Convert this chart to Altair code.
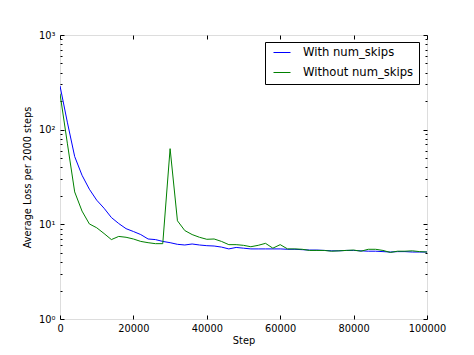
import altair as alt
import pandas as pd

steps = [0, 2000, 4000, 6000, 8000, 10000, 12000, 14000, 16000, 18000,
         20000, 22000, 24000, 26000, 28000, 30000, 32000, 34000, 36000, 38000,
         40000, 42000, 44000, 46000, 48000, 50000, 52000, 54000, 56000, 58000,
         60000, 62000, 64000, 66000, 68000, 70000, 72000, 74000, 76000, 78000,
         80000, 82000, 84000, 86000, 88000, 90000, 92000, 94000, 96000, 98000,
         100000]

with_skips = [290, 120, 52, 33, 23.5, 18, 14.8, 11.8, 10.2, 9.0,
              8.4, 7.8, 7.0, 6.9, 6.6, 6.4, 6.15, 6.05, 6.2, 6.05,
              5.95, 5.9, 5.75, 5.5, 5.7, 5.6, 5.5, 5.5, 5.5, 5.5,
              5.5, 5.45, 5.45, 5.4, 5.35, 5.35, 5.3, 5.25, 5.25, 5.3,
              5.3, 5.25, 5.2, 5.2, 5.15, 5.1, 5.15, 5.15, 5.1, 5.1,
              5.1]

without_skips = [240, 72, 22, 13.8, 10.1, 9.2, 8.0, 6.9, 7.45, 7.3,
                 7.0, 6.6, 6.4, 6.25, 6.25, 63, 10.9, 8.6, 7.8, 7.3,
                 6.95, 7.0, 6.6, 6.1, 6.1, 6.0, 5.8, 6.0, 6.3, 5.6,
                 6.1, 5.5, 5.5, 5.45, 5.3, 5.3, 5.3, 5.2, 5.25, 5.3,
                 5.35, 5.2, 5.45, 5.45, 5.3, 5.05, 5.2, 5.2, 5.25, 5.15,
                 5.1]

series_names = ["With num_skips", "Without num_skips"]
series_colors = ["#0000ff", "#008000"]

x_ticks = [0, 20000, 40000, 60000, 80000, 100000]
y_ticks = [1, 10, 100, 1000]
y_minor = [2, 3, 4, 5, 6, 7, 8, 9, 20, 30, 40, 50, 60, 70, 80, 90,
           200, 300, 400, 500, 600, 700, 800, 900]

df = pd.DataFrame({
    "step": steps * 2,
    "loss": with_skips + without_skips,
    "series": [series_names[0]] * len(steps) + [series_names[1]] * len(steps),
})

W, H = 367, 284
FONT = "DejaVu Sans"
FS = 9.8

xscale = alt.Scale(domain=[0, 100000], nice=False, zero=False)
yscale = alt.Scale(type="log", domain=[1, 1000], nice=False)

sup_expr = ("datum.value == 1 ? '10\u2070' : datum.value == 10 ? '10\u00b9' : "
            "datum.value == 100 ? '10\u00b2' : '10\u00b3'")

base = alt.Chart(df)

main = base.mark_line(strokeWidth=1, clip=True).encode(
    x=alt.X("step:Q", scale=xscale,
            axis=alt.Axis(values=x_ticks, format="d", ticks=False, domain=False,
                          grid=False, labelPadding=4, labelFontSize=FS,
                          labelFont=FONT, labelColor="#000", title="Step",
                          titleFont=FONT, titleFontSize=FS, titleFontWeight="normal",
                          titleColor="#000", titlePadding=3, labelFlush=False)),
    y=alt.Y("loss:Q", scale=yscale,
            axis=alt.Axis(values=y_ticks, labelExpr=sup_expr, ticks=False, domain=False,
                          grid=False, labelPadding=5, labelFontSize=FS,
                          labelFont=FONT, labelColor="#000",
                          title="Average Loss per 2000 steps", titleFont=FONT,
                          titleFontSize=FS, titleFontWeight="normal",
                          titleColor="#000", titlePadding=6, labelFlush=False)),
    color=alt.Color("series:N",
                    scale=alt.Scale(domain=series_names, range=series_colors),
                    legend=alt.Legend(title=None, orient="none", legendX=205, legendY=7,
                                      strokeColor="#000", fillColor="#fff", padding=5,
                                      symbolType="stroke", symbolSize=289,
                                      symbolStrokeWidth=1, symbolOffset=3,
                                      labelOffset=12, labelFontSize=11.6,
                                      labelFont=FONT, labelColor="#000",
                                      clipHeight=11, rowPadding=7, cornerRadius=0)),
)


def tick_layer(xorient, xoff, yorient, yoff, yvals, ysize, show_x=True):
    if show_x:
        xenc = alt.X("step:Q", scale=xscale,
                     axis=alt.Axis(orient=xorient, offset=xoff, values=x_ticks,
                                   labels=False, domain=False, grid=False,
                                   tickSize=4, tickColor="#000", tickWidth=1,
                                   title=None))
    else:
        xenc = alt.X("step:Q", scale=xscale, axis=None)
    return base.mark_line(opacity=0).encode(
        x=xenc,
        y=alt.Y("loss:Q", scale=yscale,
                axis=alt.Axis(orient=yorient, offset=yoff, values=yvals,
                              labels=False, domain=False, grid=False,
                              tickSize=ysize, tickColor="#000", tickWidth=1,
                              title=None)),
        detail="series:N",
    )


layers = [
    main,
    tick_layer("top", -H, "right", -W, y_ticks, 4),
    tick_layer("bottom", -H, "left", -W, y_ticks, 4),
    tick_layer("top", -H, "right", -W, y_minor, 2, show_x=False),
    tick_layer("bottom", -H, "left", -W, y_minor, 2, show_x=False),
]

chart = alt.layer(*layers).resolve_axis(x="independent", y="independent").properties(
    width=W, height=H,
    autosize=alt.AutoSizeParams(type="none"),
    padding={"left": 52, "top": 27, "right": 30, "bottom": 30},
).configure_view(stroke="#000", strokeWidth=1).configure(background="#fff")

chart.save("out.html", embed_options={"renderer": "svg", "actions": False})
